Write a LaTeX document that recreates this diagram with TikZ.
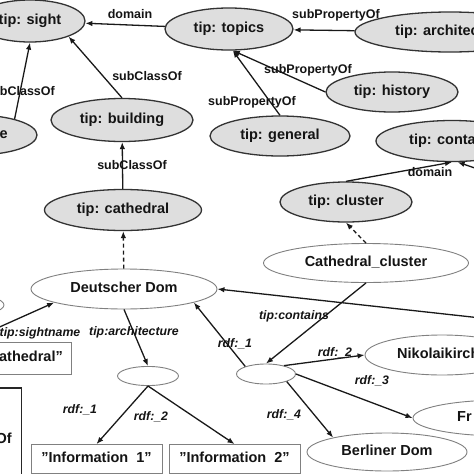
\documentclass[tikz,border=0pt]{standalone}
\usepackage{fontspec}
\setmainfont{Liberation Sans}
\usetikzlibrary{shapes.geometric,arrows.meta}
\begin{document}
\begin{tikzpicture}[x=1pt,y=-1pt,
  gnode/.style={ellipse, draw=black!80, line width=1.3pt, fill=black!13, inner sep=0pt,
    text=black!92, font=\bfseries\fontsize{14.5}{17}\selectfont, text height=10.5pt, text depth=3pt},
  wnode/.style={ellipse, draw=black!50, line width=0.9pt, fill=white, inner sep=0pt,
    text=black!92, font=\bfseries\fontsize{14.5}{17}\selectfont, text height=10.5pt, text depth=3pt},
  lbox/.style={rectangle, draw=black!50, line width=0.9pt, fill=white, inner sep=0pt,
    text=black!92, font=\bfseries\fontsize{14.5}{17}\selectfont, text height=10.5pt, text depth=3pt},
  txt/.style={inner sep=0pt, text=black!92, font=\bfseries\fontsize{14.5}{17}\selectfont,
    text height=10.5pt, text depth=3pt},
  lab/.style={inner sep=0pt, text=black!92, font=\bfseries\fontsize{12.5}{14}\selectfont,
    text height=8.5pt, text depth=2pt},
  ilab/.style={inner sep=0pt, text=black!92, font=\bfseries\itshape\fontsize{12.3}{14}\selectfont,
    text height=8.5pt, text depth=2pt},
  arr/.style={draw=black!90, line width=1.3pt, -{Latex[length=7pt,width=5.5pt]}},
  darr/.style={arr, dash pattern=on 4pt off 3pt}]
\useasboundingbox (0,0) rectangle (474,474);
\fill[white] (0,0) rectangle (474,474);
\clip (0,0) rectangle (474,474);

% class / property nodes (grey)
\node[gnode, minimum width=110pt, minimum height=42pt] (sight) at (30,21) {tip: sight};
\node[gnode, minimum width=128pt, minimum height=42pt] (topics) at (229,29) {tip: topics};
\node[gnode, minimum width=190pt, minimum height=40pt] (archi) at (450,32) {};
\node[txt, anchor=west] (architxt) at (395,32) {tip: architec};
\node[gnode, minimum width=132pt, minimum height=40pt] (history) at (392,92) {tip: history};
\node[gnode, minimum width=140pt, minimum height=40pt] (general) at (280,136) {tip: general};
\node[gnode, minimum width=152pt, minimum height=41pt] (contains) at (452,141) {};
\node[txt, anchor=west] (containstxt) at (409,141) {tip: conta};
\node[gnode, minimum width=132pt, minimum height=40pt] (cluster) at (346,202) {tip: cluster};
\node[gnode, minimum width=142pt, minimum height=43pt] (building) at (122,120) {tip: building};
\node[gnode, minimum width=124pt, minimum height=40pt] (place) at (-25,135) {};
\node[txt, anchor=east] (placetxt) at (8,135) {e};
\node[gnode, minimum width=157pt, minimum height=41pt] (cathedral) at (123,210) {tip: cathedral};

% instance nodes (white)
\node[wnode, minimum width=186pt, minimum height=40pt] (dd) at (124,289) {Deutscher Dom};
\node[wnode, minimum width=205pt, minimum height=39pt] (cc) at (366,263) {Cathedral\_cluster};
\node[wnode, minimum width=61pt, minimum height=18pt] (bagL) at (148,376) {};
\node[wnode, minimum width=59pt, minimum height=20pt] (bagR) at (266,374) {};
\node[wnode, minimum width=60pt, minimum height=18pt] (smallL) at (-26,305) {};
\node[wnode, minimum width=154pt, minimum height=40pt] (nikolai) at (442,355) {};
\node[txt, anchor=west] (nikolaitxt) at (397,355) {Nikolaikirch};
\node[wnode, minimum width=180pt, minimum height=36pt] (fr) at (503,418) {};
\node[txt, anchor=west] (frtxt) at (457,418) {Fr};
\node[wnode, minimum width=160pt, minimum height=38pt] (berliner) at (387,452) {Berliner Dom};

% literal boxes
\node[lbox, minimum width=160pt, minimum height=32pt, anchor=east] (boxc) at (72,358) {};
\node[txt, anchor=east] (boxctxt) at (63,358) {athedral"};
\node[lbox, minimum width=131pt, minimum height=29pt] (info1) at (96.5,459) {"Information\ \ 1"};
\node[lbox, minimum width=131pt, minimum height=29pt] (info2) at (234.5,459) {"Information\ \ 2"};
\node[rectangle, draw=black!85, line width=1.5pt, fill=white, minimum width=100pt,
      minimum height=110pt, anchor=north east] (boxof) at (22,387) {};
\node[txt, anchor=east] (oftxt) at (12,440) {Of};

% connectors
\draw[arr] (topics) -- (sight);
\draw[arr] (archi) -- (topics);
\draw[arr] (history.west) -- (topics.-80);
\draw[arr] (general.north) -- (topics.-80);
\draw[arr] (building.north) -- (sight.-22);
\draw[arr] (place.22) -- (sight.south);
\draw[arr] (cathedral) -- (building);
\draw[darr] (dd) -- (cathedral);
\draw[darr] (cc.north) -- (cluster.south);
\draw[arr] (cluster.north) -- (contains.south);
\coordinate (r1) at (492,174);
\draw[arr] (r1) -- (contains.-75);
\coordinate (r2) at (490,319);
\draw[arr] (r2) -- (dd.east);
\draw[arr] (cc.south) -- (bagR.north);
\draw[arr] (bagR.160) -- (dd.-11);
\draw[arr] (bagR.25) -- (nikolai.west);
\draw[arr] (bagR.east) -- (fr.west);
\draw[arr] (bagR.-20) -- (berliner.165);
\draw[arr] (dd.south) -- (bagL.north);
\draw[arr] (bagL.south) -- (info1.north);
\draw[arr] (bagL.south) -- (info2.north);
\coordinate (sn) at (-34,342);
\draw[arr] (sn) -- (dd.-169);

% connector labels
\node[lab] (l1) at (130,15) {domain};
\node[lab] (l2) at (336,15) {subPropertyOf};
\node[lab] (l3) at (308,70) {subPropertyOf};
\node[lab] (l4) at (252,102) {subPropertyOf};
\node[lab] (l5) at (147,77) {subClassOf};
\node[lab, anchor=east] (l6) at (55,92) {bClassOf};
\node[lab] (l7) at (132,166) {subClassOf};
\node[lab] (l8) at (430,173) {domain};
\node[ilab] (l9) at (294,316) {tip:contains};
\node[ilab] (l10) at (235,344) {rdf:\_1};
\node[ilab] (l11) at (335,353) {rdf:\_2};
\node[ilab] (l12) at (372,381) {rdf:\_3};
\node[ilab] (l13) at (284,415) {rdf:\_4};
\node[ilab] (l14) at (134,332) {tip:architecture};
\node[ilab] (l15) at (80,410) {rdf:\_1};
\node[ilab] (l16) at (151,417) {rdf:\_2};
\node[ilab] (l17) at (40,333) {tip:sightname};
\end{tikzpicture}
\end{document}
